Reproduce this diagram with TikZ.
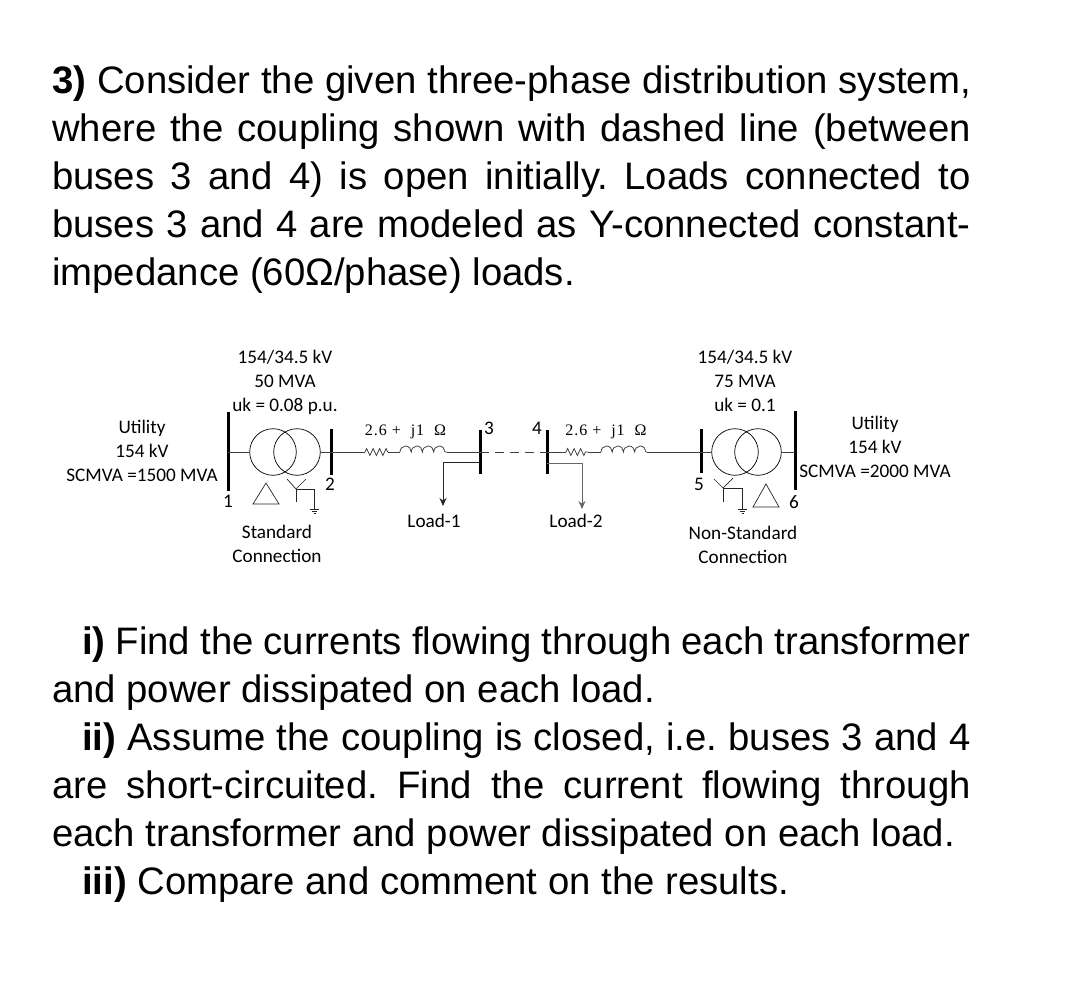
\documentclass[tikz,border=0pt]{standalone}
\usepackage{fontspec}
\setmainfont{Liberation Sans}
\newfontfamily\calibrifont{Carlito}
\newfontfamily\serifont[LetterSpace=6]{Liberation Serif}
\usetikzlibrary{arrows.meta, positioning, decorations.pathmorphing}
\frenchspacing

\begin{document}
\begin{tikzpicture}[x=1pt, y=-1pt,
		para/.style={anchor=north west, inner sep=0pt, text width=918.6pt, align=justify, font=\fontsize{38.3}{48}\selectfont},
		lbl/.style={inner sep=0pt, align=center, font=\calibrifont\fontsize{19.2}{24}\selectfont},
		implbl/.style={inner sep=0pt, font=\serifont\fontsize{16}{18}\selectfont},
		bus/.style={rectangle, fill=black, inner sep=0pt, minimum width=3pt},
		winding/.style={circle, draw=black, line width=0.7pt, inner sep=0pt, minimum size=46.6pt},
		wire/.style={draw=black!75, line width=0.8pt},
		symb/.style={draw=black!85, line width=0.7pt},
		resistor/.style={wire, decorate, decoration={zigzag, segment length=6.5pt, amplitude=3.5pt}},
		inductor/.style={wire, decorate, decoration={bumps, segment length=22.5pt, amplitude=6pt}},
		loadarrow/.style={-{Stealth[length=8pt, width=7pt]}, line width=0.9pt}
		]
		\useasboundingbox (0,0) rectangle (1080,1006);
		
		% Question text
		\node[para] (intro) at (52,66) {\textbf{3)} Consider the given three-phase distribution system, where the coupling shown with dashed line (between buses 3 and 4) is open initially. Loads connected to buses 3 and 4 are modeled as Y-connected constant-\linebreak impedance (60Ω/phase) loads.};
		\node[para] (parts) at (52,627) {\hspace*{30pt}\textbf{i)} Find the currents flowing through each transformer and power dissipated on each load.\par
			\hspace*{30pt}\textbf{ii)} Assume the coupling is closed, i.e. buses 3 and 4\linebreak are short-circuited. Find the current flowing through\linebreak each transformer and power dissipated on each load.\par
			\hspace*{30pt}\textbf{iii)} Compare and comment on the results.};
		
		% Buses
		\node[bus, minimum height=79pt] (bus1) at (228,451) {};
		\node[bus, minimum height=46pt] (bus2) at (331,452) {};
		\node[bus, minimum height=44pt] (bus3) at (480,452) {};
		\node[bus, minimum height=44pt] (bus4) at (547,452) {};
		\node[bus, minimum height=44pt] (bus5) at (701,451) {};
		\node[bus, minimum height=79pt] (bus6) at (795,450) {};
		
		% Left transformer
		\node[winding] (t1a) at (273,452) {};
		\node[winding] (t1b) at (297,452) {};
		\draw[wire] (bus1.center |- t1a.west) -- (t1a.west);
		\draw[wire] (t1b.east) -- (bus2.center |- t1b.east);
		
		% Right transformer
		\node[winding] (t2a) at (735,452) {};
		\node[winding] (t2b) at (758,452) {};
		\draw[wire] (bus5.center |- t2a.west) -- (t2a.west);
		\draw[wire] (t2b.east) -- (bus6.center |- t2b.east);
		
		% Line 2-3
		\coordinate (r1a) at (365,452);
		\coordinate (r1b) at (388,452);
		\coordinate (l1a) at (400,452);
		\coordinate (l1b) at (447,452);
		\draw[wire] (bus2.center) -- (r1a);
		\draw[resistor] (r1a) -- (r1b);
		\draw[wire] (r1b) -- (l1a);
		\draw[inductor] (l1a) -- (l1b);
		\draw[wire] (l1b) -- (bus3.center);
		
		% Coupling
		\draw[wire, dashed, dash pattern=on 9pt off 6pt] (bus3.center) -- (bus4.center);
		
		% Line 4-5
		\coordinate (r2a) at (566,452);
		\coordinate (r2b) at (588,452);
		\coordinate (l2a) at (601,452);
		\coordinate (l2b) at (647,452);
		\draw[wire] (bus4.center) -- (r2a);
		\draw[resistor] (r2a) -- (r2b);
		\draw[wire] (r2b) -- (l2a);
		\draw[inductor] (l2a) -- (l2b);
		\draw[wire] (l2b) -- (bus5.center |- l2b);
		
		% Loads
		\node[lbl] (load1) at (434,521) {Load-1};
		\node[lbl] (load2) at (576,521) {Load-2};
		\coordinate (tap1) at (480,462);
		\coordinate (tap2) at (547,463);
		\coordinate (end1) at (443,506);
		\coordinate (end2) at (582,509);
		\draw[loadarrow, black!85] (tap1) -| (end1);
		\draw[loadarrow, black!60] (tap2) -| (end2);
		
		% Winding symbols, left
		\draw[symb] (266,483) -- (253,504) -- (279,504) -- cycle;
		\coordinate (y1) at (296,489);
		\coordinate (g1) at (314,509);
		\draw[symb] (287,479) -- (y1) -- (306,479);
		\draw[symb] (y1) -- (296,502);
		\draw[symb] (y1) -| (g1);
		\draw[symb] (310,509) -- (319,509) (312,511) -- (317,511) (313.5,513) -- (315.5,513);
		
		% Winding symbols, right
		\draw[symb] (766,484) -- (753,507) -- (779,507) -- cycle;
		\coordinate (y2) at (723,488);
		\coordinate (g2) at (742,509);
		\draw[symb] (714,479) -- (y2) -- (733,478);
		\draw[symb] (y2) -- (723,502);
		\draw[symb] (y2) -| (g2);
		\draw[symb] (738,509) -- (747,509) (740,511) -- (745,511) (741.5,513) -- (743.5,513);
		
		% Labels
		\node[lbl] (rating1) at (285,382.5) {154/34.5 kV\\50 MVA\\uk = 0.08 p.u.};
		\node[lbl] (rating2) at (745,381) {154/34.5 kV\\75 MVA\\uk = 0.1};
		\node[lbl] (util1) at (142,450.5) {Utility\\154 kV\\SCMVA =1500 MVA};
		\node[lbl] (util2) at (875,447) {Utility\\154 kV\\SCMVA =2000 MVA};
		\node[lbl] (conn1) at (277,544) {Standard\\Connection};
		\node[lbl] (conn2) at (743,544.5) {Non-Standard\\Connection};
		\node[implbl] (z1) at (405.5,432) {2.6 +\ \ j1\ \ Ω};
		\node[implbl] (z2) at (606,432) {2.6 +\ \ j1\ \ Ω};
		\node[lbl] (n1) at (228,501) {1};
		\node[lbl] (n2) at (330,484) {2};
		\node[lbl] (n3) at (489,428) {3};
		\node[lbl] (n4) at (537,428) {4};
		\node[lbl] (n5) at (699,484) {5};
		\node[lbl] (n6) at (794,502) {6};
		
	\end{tikzpicture}
\end{document}
